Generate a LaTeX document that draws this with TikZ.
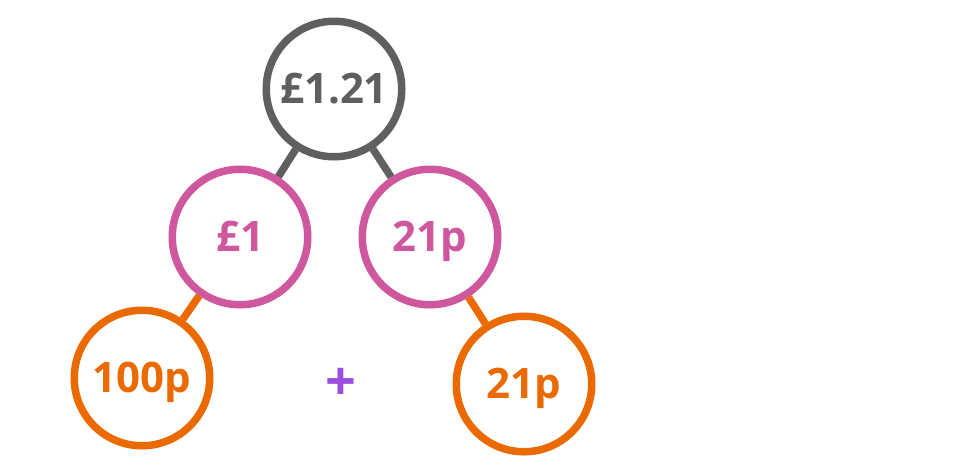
\documentclass[tikz,border=0pt]{standalone}
\usepackage{fontspec}
\setmainfont{Open Sans}
\usetikzlibrary{positioning}
\definecolor{totalgrey}{RGB}{95,95,95}
\definecolor{partpink}{RGB}{206,87,158}
\definecolor{splitorange}{RGB}{235,106,0}
\definecolor{pluspurple}{RGB}{155,77,224}

\begin{document}
\begin{tikzpicture}[x=1pt, y=-1pt,
  ring/.style={draw, circle, fill=white, line width=7.5pt, minimum size=135.5pt, inner sep=0pt,
    text height=29pt, text depth=0pt, font=\fontsize{42}{42}\selectfont\bfseries},
  link/.style={line width=7.5pt}]
\useasboundingbox (0,0) rectangle (976,475);
% Number tree
\node[ring, draw=totalgrey, text=totalgrey] (total) at (334,89) {£1.21};
\node[ring, draw=partpink, text=partpink] (pounds) at (240,237) {£1};
\node[ring, draw=partpink, text=partpink] (pence) at (430,237) {21p};
\node[ring, draw=splitorange, text=splitorange] (hundred) at (142,378) {100p};
\node[ring, draw=splitorange, text=splitorange] (rest) at (524,384) {21p};

% Branches
\draw[link, totalgrey] (total) -- (pounds);
\draw[link, totalgrey] (total) -- (pence);
\draw[link, splitorange] (pounds) -- (hundred);
\draw[link, splitorange] (pence) -- (rest);

% Sum sign
\node[font=\fontsize{54}{54}\selectfont\bfseries, text=pluspurple, inner sep=0pt] (plus) at (341,384) {+};
\end{tikzpicture}
\end{document}
